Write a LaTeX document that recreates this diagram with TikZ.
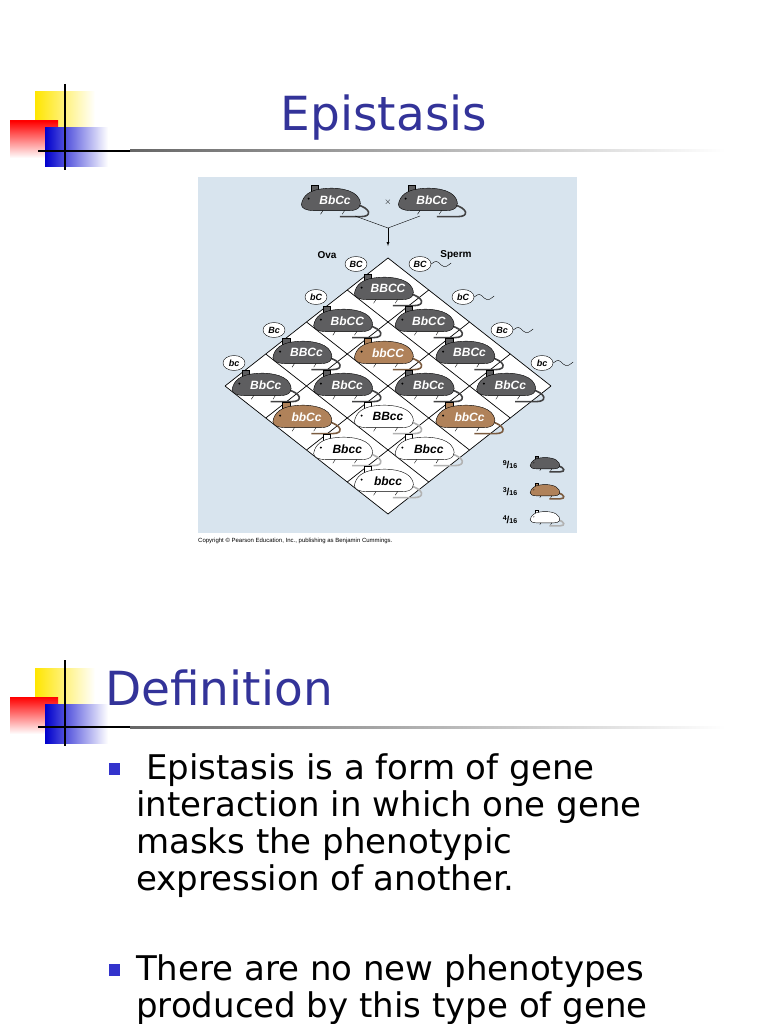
\documentclass[tikz,border=0pt]{standalone}
\usepackage{fontspec}
\setmainfont{DejaVu Sans}
\setsansfont{Liberation Sans}
\usetikzlibrary{shapes.geometric}
\definecolor{titleblue}{HTML}{333399}
\definecolor{bgblue}{HTML}{D8E4EE}
\definecolor{mgray}{HTML}{5E5E60}
\definecolor{mbrown}{HTML}{B0825A}
\definecolor{bulletblue}{HTML}{3333CC}
\newcommand\logo[1]{%
 \begin{scope}[yshift=-#1pt]
  \shade[left color=yellow!80!orange,right color=white] (35,92) rectangle (95,128);
  \shade[shading angle=-135,top color=red,bottom color=white] (10,121) rectangle (58,158);
  \shade[left color=blue!80!black,right color=white] (45,128) rectangle (108,167);
  \draw[line width=2.5pt] (65,84) -- (65,170);
  \draw[line width=2.5pt] (38,151) -- (130,151);
  \shade[left color=black!60,right color=white] (130,150) rectangle (725,152);
 \end{scope}}
\newcommand\mouse[5]{% x y fill label textcolor
 \begin{scope}[shift={({#1},{#2})},scale=1.2]
  \draw[#3!70!black,line width=1.6pt] (18,3) .. controls (30,6) and (31,13) .. (22,13) -- (4,13);
  \draw[fill=#3] (-20,-13) rectangle (-14,-7);
  \draw[fill=#3] (-28,3) .. controls (-27,-5) and (-20,-9) .. (-12,-10) .. controls (0,-12) and (16,-10) .. (20,-2) .. controls (23,4) and (20,8) .. (12,8) -- (-18,8) .. controls (-24,8) and (-28,6) .. cycle;
  \draw (-10,8) -- (-12,11) (8,8) -- (6,11);
  \fill (-22,-2) circle (0.9);
  \node[mlab,text=#5] at (0,-1) {#4};
 \end{scope}}
\newcommand\cell[5]{\mouse{388+(#1-#2)*40.75}{258+(#1+#2+1)*32}{#3}{#4}{#5}}
\newcommand\frc[2]{\raisebox{3pt}{\fontsize{7}{7}\selectfont #1}/\fontsize{7}{7}\selectfont #2}
\begin{document}
\begin{tikzpicture}[x=1pt,y=-1pt,
  title/.style={text=titleblue,font=\fontsize{47}{52}\selectfont,inner sep=0},
  body/.style={font=\fontsize{34}{37}\selectfont,align=left,anchor=north west,inner sep=0},
  gam/.style={draw,fill=white,ellipse,inner sep=1pt,minimum width=22pt,minimum height=15pt,font=\sffamily\bfseries\itshape\fontsize{9}{9}\selectfont},
  mlab/.style={font=\sffamily\bfseries\itshape\fontsize{12}{12}\selectfont,inner sep=0},
  small/.style={font=\sffamily\bfseries\fontsize{10}{10}\selectfont,inner sep=0}]
\useasboundingbox[fill=white] (0,0) rectangle (768,1024);
\logo{0}
\logo{576}
\node[title] (t1) at (384,118) {Epistasis};
\node[title,anchor=west] (t2) at (105,688) {Definition};
\fill[bulletblue] (109,763) rectangle (120,775);
\fill[bulletblue] (109,964) rectangle (120,976);
\node[body] (b1) at (136,753) {\hspace{10pt}Epistasis is a form of gene\\interaction in which one gene\\masks the phenotypic\\expression of another.};
\node[body] (b2) at (136,954) {There are no new phenotypes\\produced by this type of gene};
\fill[bgblue] (198,177) rectangle (577,533);
\node[anchor=west,font=\sffamily\fontsize{6}{6}\selectfont,inner sep=0] (copy) at (198,541) {Copyright \textcopyright{} Pearson Education, Inc., publishing as Benjamin Cummings.};
\mouse{335}{201}{mgray}{BbCc}{white}
\mouse{432}{201}{mgray}{BbCc}{white}
\node[font=\fontsize{9}{9}\selectfont,inner sep=0] (x) at (388,202) {$\times$};
\coordinate (pa) at (355,216);
\coordinate (pb) at (420,216);
\coordinate (pm) at (388,228);
\coordinate (pt) at (388,246);
\draw (pa) -- (pm) -- (pb);
\draw[-latex] (pm) -- (pt);
\node[small] (ova) at (327,255) {Ova};
\node[small] (sperm) at (456,255) {Sperm};
\fill[white] (388,258) -- ++(-163,128) -- ++(163,128) -- ++(163,-128) -- cycle;
\foreach \i in {0,...,4}{
  \draw[line width=0.7pt] ({388-\i*40.75},{258+\i*32}) -- ++(163,128);
  \draw[line width=0.7pt] ({388+\i*40.75},{258+\i*32}) -- ++(-163,128);
}
\cell{0}{0}{mgray}{BBCC}{white}
\cell{1}{0}{mgray}{BbCC}{white}
\cell{0}{1}{mgray}{BbCC}{white}
\cell{2}{0}{mgray}{BBCc}{white}
\cell{1}{1}{mbrown}{bbCC}{white}
\cell{0}{2}{mgray}{BBCc}{white}
\cell{3}{0}{mgray}{BbCc}{white}
\cell{2}{1}{mgray}{BbCc}{white}
\cell{1}{2}{mgray}{BbCc}{white}
\cell{0}{3}{mgray}{BbCc}{white}
\cell{3}{1}{mbrown}{bbCc}{white}
\cell{2}{2}{white}{BBcc}{black}
\cell{1}{3}{mbrown}{bbCc}{white}
\cell{3}{2}{white}{Bbcc}{black}
\cell{2}{3}{white}{Bbcc}{black}
\cell{3}{3}{white}{bbcc}{black}
\node[gam] (o1) at (356,264) {BC};
\node[gam] (o2) at (316,297) {bC};
\node[gam] (o3) at (274,330) {Bc};
\node[gam] (o4) at (234,363) {bc};
\foreach \n/\x/\y/\l in {s1/420/264/BC,s2/463/297/bC,s3/502/330/Bc,s4/542/363/bc}{
  \node[gam] (\n) at (\x,\y) {\l};
  \draw (\n.east) .. controls +(5,-4) and +(-4,-4) .. ++(10,1) .. controls +(4,4) and +(-3,2) .. ++(10,-2);
}
\node[small] (l1) at (510,465) {\frc{9}{16}};
\node[small] (l2) at (510,492) {\frc{3}{16}};
\node[small] (l3) at (510,520) {\frc{4}{16}};
\begin{scope}[shift={(547,464)},scale=0.5]\mouse{0}{0}{mgray}{}{white}\end{scope}
\begin{scope}[shift={(547,491)},scale=0.5]\mouse{0}{0}{mbrown}{}{white}\end{scope}
\begin{scope}[shift={(547,518)},scale=0.5]\mouse{0}{0}{white}{}{white}\end{scope}
\end{tikzpicture}
\end{document}
